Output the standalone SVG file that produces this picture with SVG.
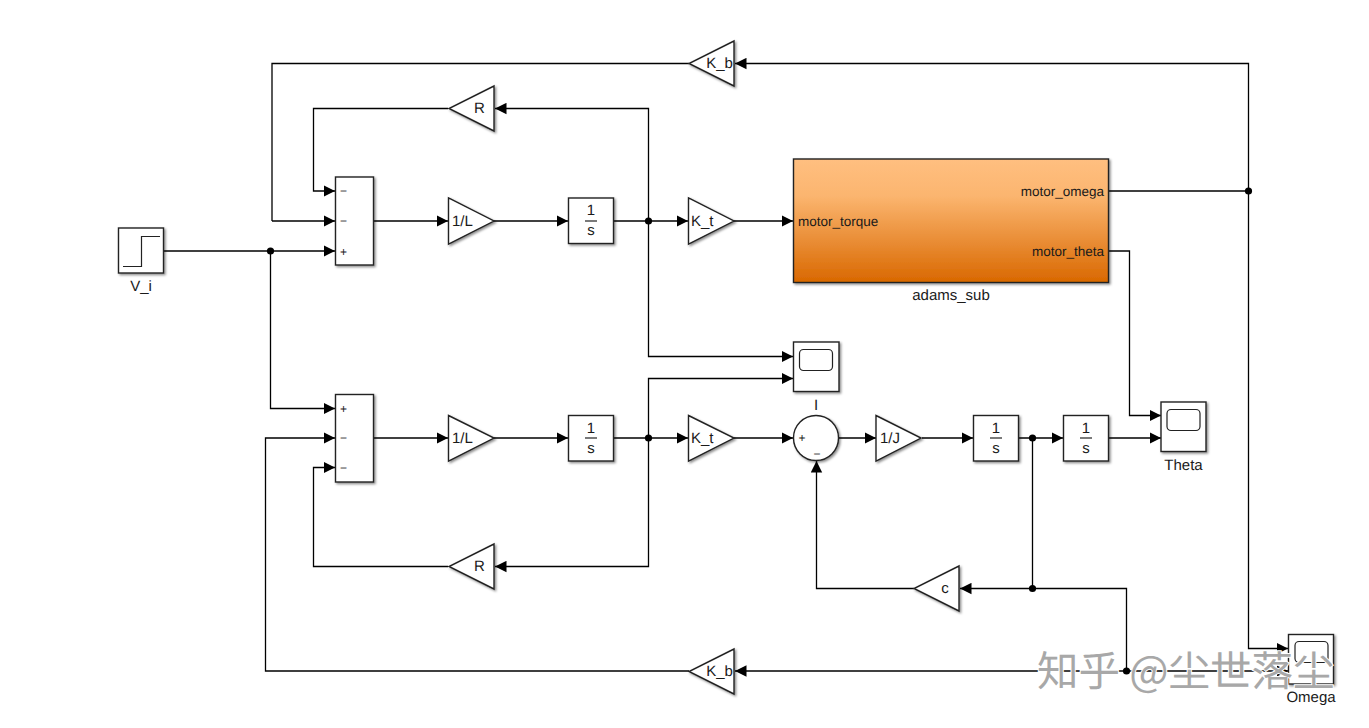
<svg xmlns="http://www.w3.org/2000/svg" width="1369" height="728" viewBox="0 0 1369 728">
<style>
text{font-family:"Liberation Sans",Arial,sans-serif;font-size:15px;fill:#1a1a1a;text-rendering:geometricPrecision}
.m{text-anchor:middle}
.e{text-anchor:end;font-size:13.500px}
.t{font-size:13.500px}
.s{text-anchor:middle;font-size:12px}
.b{fill:#fff;stroke:#222;stroke-width:1.4;filter:url(#sh)}
.i{fill:none;stroke:#222;stroke-width:1.2}
#wires path{fill:none;stroke:#000;stroke-width:1.3;marker-end:url(#a)}
#wires path.n{marker-end:none}
#wires circle{fill:#000}
.wm{font-family:"Noto Sans CJK SC","Liberation Sans",sans-serif;font-size:41.500px;fill:#a8a8a8;stroke:#fff;stroke-width:2;paint-order:stroke}
</style>
<defs>
<filter id="sh" x="-20%" y="-20%" width="150%" height="150%"><feDropShadow dx="1.5" dy="1.5" stdDeviation="1.2" flood-color="#000" flood-opacity=".45"/></filter>
<marker id="a" markerUnits="userSpaceOnUse" markerWidth="12" markerHeight="12" refX="11.5" refY="6" orient="auto"><path d="M0 .3L11.5 6L0 11.7Z" fill="#000"/></marker>
<linearGradient id="og" x1="0" y1="0" x2="0" y2="1"><stop offset="0" stop-color="#ffbf80"/><stop offset=".3" stop-color="#fbb56f"/><stop offset="1" stop-color="#d96800"/></linearGradient>
</defs>
<rect width="1369" height="728" fill="#fff"/>
<g id="wires">
<path d="M1248.500 191V63.500H735"/>
<path class="n" d="M689 63.500H272V221"/><path d="M272 221H335"/>
<path d="M648.500 221V108.500H495"/>
<path d="M448 108.500H313.500V191H335"/>
<path d="M163 251H335"/>
<path d="M270.500 251V408.500H335"/>
<path d="M373 221H448"/><path d="M494 221H568"/><path d="M613 221H688"/>
<path d="M648.500 221V356.500H793"/>
<path d="M734 221H793"/>
<path class="n" d="M1109 191H1248.500"/>
<path d="M1248.500 191V648.500H1288"/>
<path d="M1109 251H1129.500V415.500H1161"/>
<path d="M373 438H448"/><path d="M494 438H568"/><path d="M613 438H688"/>
<path d="M648.500 438V378.500H793"/>
<path d="M648.500 438V566.500H495"/>
<path d="M448 566.500H313.500V467.500H335"/>
<path d="M734 438H793"/><path d="M839 438H876"/><path d="M922 438H973"/>
<path d="M1019 438H1063"/><path d="M1109 438H1161"/>
<path d="M1032.500 438V588.500H960"/>
<path d="M914 588.500H816.500V461"/>
<path class="n" d="M1032.500 588.500H1126.500V671"/>
<path d="M1126.500 671H735"/>
<path d="M1126.500 671H1288"/>
<path d="M689 671H265.500V438H335"/>
<circle cx="1248.500" cy="191" r="3.600"/><circle cx="648.500" cy="221" r="3.600"/><circle cx="270.500" cy="251" r="3.600"/>
<circle cx="648.500" cy="438" r="3.600"/><circle cx="1032.500" cy="438" r="3.600"/><circle cx="1032.500" cy="588.500" r="3.600"/><circle cx="1126.500" cy="671" r="3.600"/>
</g>
<g id="V_i"><rect class="b" x="118.500" y="228" width="45" height="45"/><path class="i" d="M123 266.500H141.500V236.500H160"/><text class="m" x="141" y="291">V_i</text></g>
<g id="sum1"><rect class="b" x="335.500" y="177" width="38" height="88"/><text class="s" x="343.500" y="195">−</text><text class="s" x="343.500" y="225">−</text><text class="s" x="343.500" y="256">+</text></g>
<g id="sum2"><rect class="b" x="335.500" y="394.500" width="38" height="87.500"/><text class="s" x="343.500" y="413">+</text><text class="s" x="343.500" y="442">−</text><text class="s" x="343.500" y="472">−</text></g>
<g id="Kb_top"><path class="b" d="M734 41V86L689 63.500Z"/><text class="m" x="719.500" y="68">K_b</text></g>
<g id="R_top"><path class="b" d="M494 86V131L449 108.500Z"/><text class="m" x="479.500" y="113">R</text></g>
<g id="L_top"><path class="b" d="M448.500 198V244L494 221Z"/><text x="452" y="226">1/L</text></g>
<g id="int1"><rect class="b" x="568.500" y="198" width="45" height="45.500"/><text class="m" x="591" y="215">1</text><path class="i" d="M585 221H597"/><text class="m" x="591" y="235">s</text></g>
<g id="Kt_top"><path class="b" d="M688.500 198V244L734 221Z"/><text x="691" y="226">K_t</text></g>
<g id="adams_sub"><rect x="793.500" y="159" width="315" height="123.500" fill="url(#og)" stroke="#222" stroke-width="1.4" filter="url(#sh)"/><text class="t" x="798" y="226">motor_torque</text><text class="e" x="1104" y="196">motor_omega</text><text class="e" x="1104" y="256">motor_theta</text><text class="m" x="951" y="300">adams_sub</text></g>
<g id="I"><rect class="b" x="793.500" y="342" width="45.500" height="49.500"/><rect class="i" x="799.500" y="349.500" width="33" height="21" rx="4"/><text class="m" x="816" y="410">I</text></g>
<g id="Theta"><rect class="b" x="1161" y="402" width="45" height="49.500"/><rect class="i" x="1167" y="409.500" width="33" height="21" rx="4"/><text class="m" x="1183.500" y="470">Theta</text></g>
<g id="Omega"><rect class="b" x="1288.500" y="634.500" width="45" height="49.500"/><rect class="i" x="1295" y="641.500" width="33" height="21" rx="4"/></g>
<g id="L_bot"><path class="b" d="M448.500 415.500V461L494 438Z"/><text x="452" y="443">1/L</text></g>
<g id="int2"><rect class="b" x="568.500" y="415.500" width="45" height="45.500"/><text class="m" x="591" y="433">1</text><path class="i" d="M585 438H597"/><text class="m" x="591" y="453">s</text></g>
<g id="Kt_bot"><path class="b" d="M688.500 415.500V461L734 438Z"/><text x="691" y="443">K_t</text></g>
<g id="sum3"><circle class="b" cx="816" cy="438" r="22.500"/><text class="s" x="802" y="442">+</text><text class="s" x="817" y="458">−</text></g>
<g id="J"><path class="b" d="M876 415.500V461L921 438Z"/><text x="880" y="443">1/J</text></g>
<g id="int3"><rect class="b" x="973.500" y="415.500" width="45" height="45.500"/><text class="m" x="996" y="433">1</text><path class="i" d="M990 438H1002"/><text class="m" x="996" y="453">s</text></g>
<g id="int4"><rect class="b" x="1063.500" y="415.500" width="45" height="45.500"/><text class="m" x="1086" y="433">1</text><path class="i" d="M1080 438H1092"/><text class="m" x="1086" y="453">s</text></g>
<g id="R_bot"><path class="b" d="M494 544V589L449 566.500Z"/><text class="m" x="479.500" y="571">R</text></g>
<g id="c"><path class="b" d="M959 566V611L914 588.500Z"/><text class="m" x="945" y="593">c</text></g>
<g id="Kb_bot"><path class="b" d="M734 649V694L689 671.500Z"/><text class="m" x="719.500" y="676">K_b</text></g>
<text class="wm" x="1037" y="686">知乎 @尘世落尘</text>
<text class="m" x="1311" y="702" id="Omega_label">Omega</text>
</svg>
